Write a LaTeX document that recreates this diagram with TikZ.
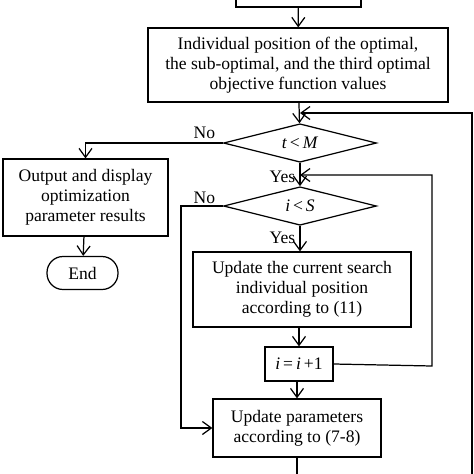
\documentclass[tikz,border=0pt]{standalone}
\usepackage{fontspec}
\setmainfont{Liberation Serif}
\usetikzlibrary{positioning, arrows.meta, shapes.geometric}
\newcommand{\vr}[1]{\textit{#1}}

\begin{document}
\begin{tikzpicture}[
    % GLOBAL CFG
    x=0.02cm, y=-0.02cm,
    font=\fontsize{10}{11.4}\selectfont,
    >={Straight Barb[length=1.8mm,width=2.6mm]},
    line width=0.7pt,
    % Styles
    stepbox/.style={% For process boxes
        rectangle,
        draw,
        inner sep=1pt,
        align=center,
    },
    decision/.style={% For tests
        diamond,
        draw,
        aspect=4,
        inner sep=0pt,
        minimum width=3.06cm,
        minimum height=0.77cm,
    },
    terminal/.style={% For the end node
        rectangle,
        rounded corners=3.2mm,
        draw,
        minimum width=1.42cm,
        minimum height=0.66cm,
    },
    mylabel/.style={
        inner sep=0pt,
        anchor=base west,
    },
    ]

    \useasboundingbox (0,0) rectangle (474,474);
    \clip (0,0) rectangle (474,474);

    % Draw boxes
    \node [stepbox, minimum width=2.5cm, minimum height=0.8cm] (init) at (298.5,-13) {};
    \node [stepbox, minimum width=6cm, minimum height=1.48cm] (best) at (298,65)
        {Individual position of the optimal,\\ the sub-optimal, and the third optimal\\ objective function values};
    \node [stepbox, minimum width=3.3cm, minimum height=1.54cm] (output) at (85.5,197.5)
        {Output and display\\ optimization\\ parameter results};
    \node [terminal] (finish) at (82.5,273) {End};
    \node [stepbox, minimum width=4.36cm, minimum height=1.5cm] (update) at (302,289.5)
        {Update the current search\\ individual position\\ according to (11)};
    \node [stepbox, minimum width=1.36cm, minimum height=0.68cm] (inc) at (299,364)
        {\vr{i}\,=\,\vr{i}\,+1};
    \node [stepbox, minimum width=3.36cm, minimum height=1.16cm] (params) at (297,428)
        {Update parameters\\ according to (7-8)};

    % Draw tests
    \node [decision] (iter) at (300,143) {\vr{t}\,<\,\vr{M}};
    \node [decision] (pop) at (300,206) {\vr{i}\,<\,\vr{S}};

    % Loop end points
    \coordinate (outer) at (472,480);
    \coordinate (join1) at (300,113);
    \coordinate (join2) at (300,175);
    \coordinate (turn) at (432,366);
    \coordinate (side) at (181,206);
    \coordinate (down) at (300,480);

    % Connect all
    \draw [->] (init) -- (best);
    \draw [->] (best) -- (iter);
    \draw [->] (outer) |- (join1);
    \draw [->] (iter.west) -| (output.north);
    \draw [->] (output) -- (finish);
    \draw [->] (iter) -- (pop);
    \draw [->] (inc.east) -- (turn) |- (join2);
    \draw [->] (pop) -- (pop.south |- update.north);
    \draw [->] (pop.west) -- (side) |- (params.west);
    \draw [->] (update.south -| inc.north) -- (inc.north);
    \draw [->] (inc.south -| params.north) -- (params.north);
    \draw (params.south) -- (params.south |- down);

    % Labels
    \node [mylabel] (no1) at (193,138) {No};
    \node [mylabel] (yes1) at (269,182) {Yes};
    \node [mylabel] (no2) at (193,203) {No};
    \node [mylabel] (yes2) at (269,243) {Yes};

\end{tikzpicture}
\end{document}
